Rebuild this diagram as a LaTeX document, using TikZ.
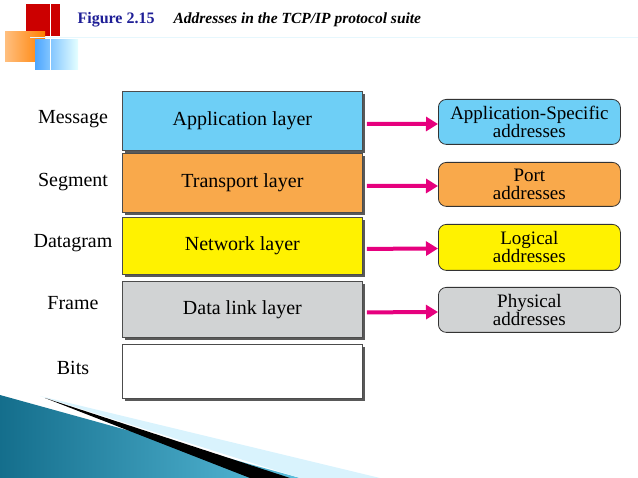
\documentclass[tikz,border=0pt]{standalone}
\usepackage{fontspec}
\setmainfont{Liberation Serif}
\usetikzlibrary{arrows.meta}
\begin{document}
\begin{tikzpicture}[x=1pt,y=-1pt,
 layer/.style={draw=black!70,line width=0.8pt,minimum width=240pt,anchor=north west,font=\fontsize{20}{20}\selectfont,inner sep=0pt},
 shad/.style={fill=black!65},
 addr/.style={draw=black!80,line width=0.8pt,rounded corners=8pt,minimum width=182pt,anchor=north west,font=\fontsize{19}{18}\selectfont,align=center,inner sep=0pt},
 lab/.style={font=\fontsize{20}{20}\selectfont},
 arr/.style={-{Triangle[length=12pt,width=14pt]},line width=4pt,draw={rgb,255:red,230;green,0;blue,126}}]
\useasboundingbox (0,0) rectangle (638,478);
% decorations
\shade[left color={rgb,255:red,20;green,110;blue,140}, right color={rgb,255:red,90;green,190;blue,220}] (0,395) -- (300,478) -- (0,478) -- cycle;
\fill[cyan!15] (40,396) -- (380,478) -- (300,478) -- cycle;
\fill[black] (45,398) -- (290,478) -- (250,478) -- cycle;
\fill[red!80!black] (26,4) rectangle (60,36);
\shade[left color=orange!50,right color=orange] (5,32) rectangle (45,62);
\shade[left color=cyan!50!blue!70,right color=cyan!10] (35,40) rectangle (78,70);
\draw[white,line width=1pt] (50,0) -- (50,75);
\draw[cyan!10,line width=1pt] (30,38) -- (638,38);
\node[anchor=west,font=\bfseries\fontsize{16}{16}\selectfont,text={rgb,255:red,30;green,30;blue,150}] (fig) at (74,20) {Figure 2.15};
\node[anchor=west,font=\bfseries\itshape\fontsize{15.5}{16}\selectfont] (title) at (170,20) {Addresses in the TCP/IP protocol suite};
% layers
\fill[shad] (125,94) rectangle (365,153);
\node[layer,fill={rgb,255:red,110;green,207;blue,246},minimum height=59pt] (app) at (122,91) {Application layer};
\fill[shad] (125,156) rectangle (365,215);
\node[layer,fill={rgb,255:red,249;green,169;blue,75},minimum height=59pt] (tr) at (122,153) {Transport layer};
\fill[shad] (125,220) rectangle (365,277);
\node[layer,fill={rgb,255:red,255;green,242;blue,0},minimum height=57pt] (net) at (122,217) {Network layer};
\fill[shad] (125,284) rectangle (365,340);
\node[layer,fill={rgb,255:red,209;green,211;blue,212},minimum height=56pt] (dl) at (122,281) {Data link layer};
\fill[shad] (125,347) rectangle (365,401);
\node[layer,fill=white,minimum height=54pt] (ph) at (122,344) {};
% labels
\node[lab] (l1) at (73,119) {Message};
\node[lab] (l2) at (73,182) {Segment};
\node[lab] (l3) at (73,243) {Datagram};
\node[lab] (l4) at (73,303) {Frame};
\node[lab] (l5) at (73,368) {Bits};
% address boxes
\node[addr,fill={rgb,255:red,110;green,207;blue,246},minimum height=45pt] (a1) at (438,99) {Application-Specific\\addresses};
\node[addr,fill={rgb,255:red,249;green,169;blue,75},minimum height=44pt] (a2) at (438,162) {Port\\addresses};
\node[addr,fill={rgb,255:red,255;green,242;blue,0},minimum height=46pt] (a3) at (438,224) {Logical\\addresses};
\node[addr,fill={rgb,255:red,209;green,211;blue,212},minimum height=45pt] (a4) at (438,287) {Physical\\addresses};
% arrows
\draw[arr] (app.east)++(4,3) -- (a1.west|-0,124);
\draw[arr] (tr.east)++(4,3) -- (a2.west|-0,186);
\draw[arr] (net.east)++(4,3) -- (a3.west|-0,248.5);
\draw[arr] (dl.east)++(4,3) -- (a4.west|-0,312);
\end{tikzpicture}
\end{document}
